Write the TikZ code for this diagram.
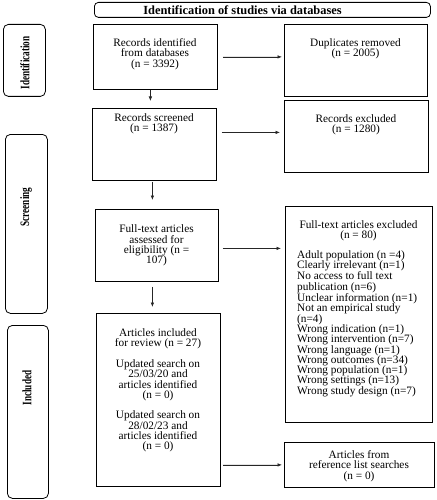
\documentclass[tikz,border=0pt]{standalone}
\usepackage{fontspec}
\setmainfont{Liberation Serif}
\usetikzlibrary{arrows.meta}
\begin{document}
\begin{tikzpicture}[x=1pt,y=-1pt,
  box/.style={draw=black, line width=0.8pt, inner sep=0, anchor=north west},
  sidebox/.style={draw=black, line width=0.8pt, rounded corners=5pt, inner sep=0, anchor=north west},
  txt/.style={inner sep=0, align=center, font=\fontsize{11.3}{10.3}\selectfont},
  sidetxt/.style={inner sep=0, rotate=90, font=\fontsize{9.2}{10}\selectfont\bfseries},
  arr/.style={-{Latex[length=4.5pt,width=3.5pt]}, line width=0.6pt, draw=black!85, fill=black!85}
]
\useasboundingbox (0,0) rectangle (436,500);
% title and side boxes
\node[sidebox, rounded corners=4pt, minimum width=336pt, minimum height=15pt] (title) at (94,2) {};
\node[inner sep=0, font=\fontsize{12.4}{13}\selectfont\bfseries] (titletxt) at (242.5,9.8) {Identification of studies via databases};
\node[sidebox, minimum width=42pt, minimum height=72pt] (side1) at (3,24) {};
\node[sidebox, minimum width=42pt, minimum height=179pt] (side2) at (5,134) {};
\node[sidebox, minimum width=41pt, minimum height=173pt] (side3) at (7,325) {};
\node[sidetxt] (s1t) at (25,63) {\scalebox{1}[1.4]{Identification}};
\node[sidetxt] (s2t) at (26,207) {\scalebox{1}[1.4]{Screening}};
\node[sidetxt] (s3t) at (27,388) {\scalebox{1}[1.4]{Included}};
% boxes
\node[box, minimum width=124pt, minimum height=65pt] (rid) at (93,24) {};
\node[box, minimum width=143pt, minimum height=72pt] (dup) at (284,24) {};
\node[box, minimum width=124pt, minimum height=72pt] (scr) at (92,108) {};
\node[box, minimum width=144pt, minimum height=72pt] (exc) at (284,100) {};
\node[box, minimum width=123pt, minimum height=72pt] (ass) at (95,209) {};
\node[box, minimum width=147pt, minimum height=216pt] (fex) at (285,206) {};
\node[box, minimum width=124pt, minimum height=173pt] (inc) at (96,313) {};
\node[box, minimum width=150pt, minimum height=45pt] (ref) at (284,442) {};
% texts
\node[txt] (ridt) at (155,54) {Records identified\\from databases\\(n = 3392)};
\node[txt] (dupt) at (355.5,49) {Duplicates removed\\(n = 2005)};
\node[txt] (scrt) at (154,123.5) {Records screened\\(n = 1387)};
\node[txt] (exct) at (356,125) {Records excluded\\(n = 1280)};
\node[txt] (asst) at (156.5,245.5) {Full-text articles\\assessed for\\eligibility (n =\\107)};
\node[txt] (fext) at (358.5,231) {Full-text articles excluded\\(n = 80)};
\node[txt, align=left, anchor=west] (fexl) at (297,323.5) {Adult population (n =4)\\Clearly irrelevant (n=1)\\No access to full text\\publication (n=6)\\Unclear information (n=1)\\Not an empirical study\\(n=4)\\Wrong indication (n=1)\\Wrong intervention (n=7)\\Wrong language (n=1)\\Wrong outcomes (n=34)\\Wrong population (n=1)\\Wrong settings (n=13)\\Wrong study design (n=7)};
\node[txt] (inct) at (158,390.5) {Articles included\\for review (n = 27)\\[10.3pt]Updated search on\\25/03/20 and\\articles identified\\(n = 0)\\[10.3pt]Updated search on\\28/02/23 and\\articles identified\\(n = 0)};
\node[txt] (reft) at (359,466) {Articles from\\reference list searches\\(n = 0)};
% arrows
\draw[arr, shorten <=5pt, shorten >=2pt] (rid.east) -- (rid.east -| dup.west);
\draw[arr, shorten <=5pt, shorten >=4pt] ([yshift=12pt]scr.east) coordinate (c1) -- (c1 -| exc.west);
\draw[arr, shorten <=4pt, shorten >=4pt] ([yshift=-3pt]ass.east) coordinate (c2) -- (c2 -| fex.west);
\draw[arr, shorten <=2pt, shorten >=2pt] (ref.west -| inc.east) -- (ref.west);
\draw[arr, shorten >=7pt] ([xshift=-5pt]rid.south) coordinate (c3) -- (c3 |- scr.north);
\draw[arr, shorten <=1pt, shorten >=9pt] ([xshift=-2pt]scr.south) coordinate (c4) -- (c4 |- ass.north);
\draw[arr, shorten <=5pt, shorten >=6pt] ([xshift=-4.5pt]ass.south) coordinate (c5) -- (c5 |- inc.north);
\end{tikzpicture}
\end{document}
